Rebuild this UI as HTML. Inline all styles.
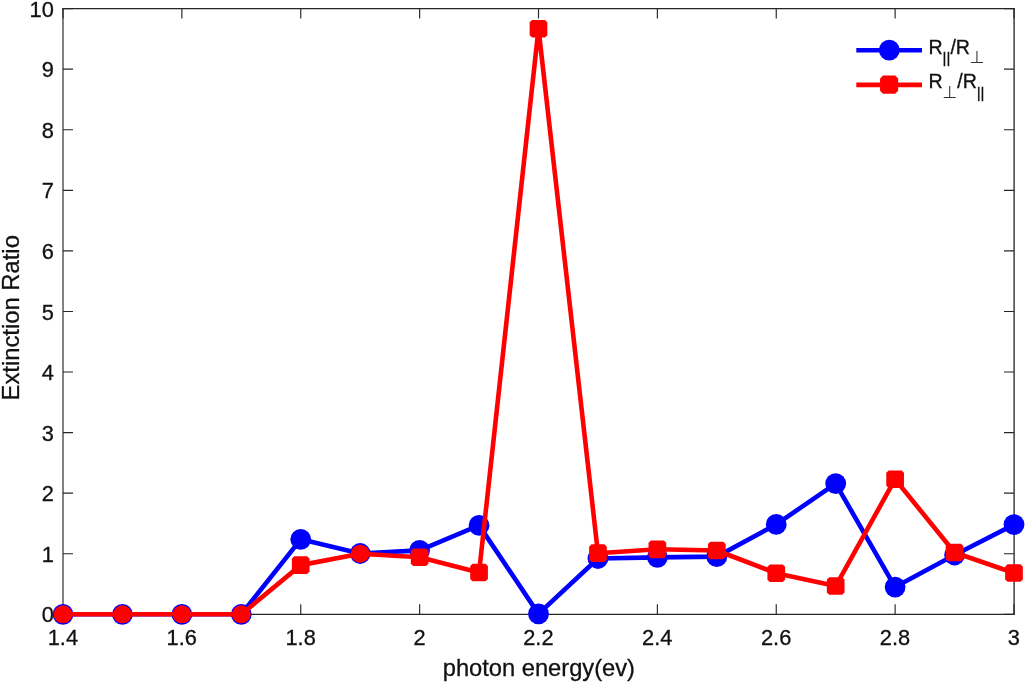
<!DOCTYPE html><html><head><meta charset="utf-8"><title>Extinction Ratio</title><style>html,body{margin:0;padding:0;background:#fff;overflow:hidden}svg{display:block}text{font-family:'Liberation Sans', Arial, Helvetica, sans-serif;fill:#111;stroke:#111;stroke-width:0.3px}</style></head><body>
<svg width="1025" height="682" viewBox="0 0 1025 682">
<rect width="1025" height="682" fill="#fff"/>
<path d="M63.00 614.30V604.30M63.00 8.60V18.60M181.87 614.30V604.30M181.87 8.60V18.60M300.75 614.30V604.30M300.75 8.60V18.60M419.63 614.30V604.30M419.63 8.60V18.60M538.50 614.30V604.30M538.50 8.60V18.60M657.38 614.30V604.30M657.38 8.60V18.60M776.25 614.30V604.30M776.25 8.60V18.60M895.12 614.30V604.30M895.12 8.60V18.60M1014.00 614.30V604.30M1014.00 8.60V18.60M63.00 614.30H73.00M1014.00 614.30H1004.00M63.00 553.73H73.00M1014.00 553.73H1004.00M63.00 493.16H73.00M1014.00 493.16H1004.00M63.00 432.59H73.00M1014.00 432.59H1004.00M63.00 372.02H73.00M1014.00 372.02H1004.00M63.00 311.45H73.00M1014.00 311.45H1004.00M63.00 250.88H73.00M1014.00 250.88H1004.00M63.00 190.31H73.00M1014.00 190.31H1004.00M63.00 129.74H73.00M1014.00 129.74H1004.00M63.00 69.17H73.00M1014.00 69.17H1004.00M63.00 8.60H73.00M1014.00 8.60H1004.00" stroke="#262626" stroke-width="1.15" fill="none"/>
<path d="M62.40 8.60H1014.60" stroke="#262626" stroke-width="1.2" fill="none"/>
<path d="M62.40 614.30H1014.60" stroke="#262626" stroke-width="1.2" fill="none"/>
<path d="M63.00 8.00V614.90" stroke="#262626" stroke-width="1.17" fill="none"/>
<path d="M1014.10 8.00V614.90" stroke="#262626" stroke-width="1.33" fill="none"/>
<text x="62.90" y="644.6" font-size="21.8" text-anchor="middle">1.4</text>
<text x="181.77" y="644.6" font-size="21.8" text-anchor="middle">1.6</text>
<text x="300.65" y="644.6" font-size="21.8" text-anchor="middle">1.8</text>
<text x="419.53" y="644.6" font-size="21.8" text-anchor="middle">2</text>
<text x="538.40" y="644.6" font-size="21.8" text-anchor="middle">2.2</text>
<text x="657.27" y="644.6" font-size="21.8" text-anchor="middle">2.4</text>
<text x="776.15" y="644.6" font-size="21.8" text-anchor="middle">2.6</text>
<text x="895.02" y="644.6" font-size="21.8" text-anchor="middle">2.8</text>
<text x="1013.90" y="644.6" font-size="21.8" text-anchor="middle">3</text>
<text x="53.8" y="622.40" font-size="21.8" text-anchor="end">0</text>
<text x="53.8" y="561.83" font-size="21.8" text-anchor="end">1</text>
<text x="53.8" y="501.26" font-size="21.8" text-anchor="end">2</text>
<text x="53.8" y="440.69" font-size="21.8" text-anchor="end">3</text>
<text x="53.8" y="380.12" font-size="21.8" text-anchor="end">4</text>
<text x="53.8" y="319.55" font-size="21.8" text-anchor="end">5</text>
<text x="53.8" y="258.98" font-size="21.8" text-anchor="end">6</text>
<text x="53.8" y="198.41" font-size="21.8" text-anchor="end">7</text>
<text x="53.8" y="137.84" font-size="21.8" text-anchor="end">8</text>
<text x="53.8" y="77.27" font-size="21.8" text-anchor="end">9</text>
<text x="53.8" y="16.70" font-size="21.8" text-anchor="end">10</text>
<text x="538.85" y="675.6" font-size="23.7" text-anchor="middle">photon energy(ev)</text>
<text transform="translate(18.7 317.8) rotate(-90)" x="0" y="0" font-size="23.8" text-anchor="middle">Extinction Ratio</text>
<polyline points="63.00,614.30 122.44,614.30 181.87,614.30 241.31,614.30 300.75,539.31 360.19,553.49 419.63,550.34 479.06,525.38 538.50,613.88 597.94,558.52 657.38,557.36 716.81,556.64 776.25,524.41 835.69,483.59 895.12,587.10 954.56,555.00 1014.00,524.60" fill="none" stroke="#0000ff" stroke-width="4.6" stroke-linejoin="round"/>
<circle cx="63.00" cy="614.30" r="10.4" fill="#0000ff"/>
<circle cx="122.44" cy="614.30" r="10.4" fill="#0000ff"/>
<circle cx="181.87" cy="614.30" r="10.4" fill="#0000ff"/>
<circle cx="241.31" cy="614.30" r="10.4" fill="#0000ff"/>
<circle cx="300.75" cy="539.31" r="10.4" fill="#0000ff"/>
<circle cx="360.19" cy="553.49" r="10.4" fill="#0000ff"/>
<circle cx="419.63" cy="550.34" r="10.4" fill="#0000ff"/>
<circle cx="479.06" cy="525.38" r="10.4" fill="#0000ff"/>
<circle cx="538.50" cy="613.88" r="10.4" fill="#0000ff"/>
<circle cx="597.94" cy="558.52" r="10.4" fill="#0000ff"/>
<circle cx="657.38" cy="557.36" r="10.4" fill="#0000ff"/>
<circle cx="716.81" cy="556.64" r="10.4" fill="#0000ff"/>
<circle cx="776.25" cy="524.41" r="10.4" fill="#0000ff"/>
<circle cx="835.69" cy="483.59" r="10.4" fill="#0000ff"/>
<circle cx="895.12" cy="587.10" r="10.4" fill="#0000ff"/>
<circle cx="954.56" cy="555.00" r="10.4" fill="#0000ff"/>
<circle cx="1014.00" cy="524.60" r="10.4" fill="#0000ff"/>
<polyline points="63.00,614.30 122.44,614.30 181.87,614.30 241.31,614.30 300.75,565.12 360.19,553.73 419.63,557.24 479.06,572.51 538.50,28.77 597.94,553.18 657.38,549.31 716.81,550.52 776.25,573.23 835.69,586.01 895.12,479.23 954.56,552.52 1014.00,572.99" fill="none" stroke="#ff0000" stroke-width="4.6" stroke-linejoin="round"/>
<ellipse cx="63.00" cy="614.30" rx="9.4" ry="9.0" fill="#ff0000"/>
<ellipse cx="122.44" cy="614.30" rx="9.4" ry="9.0" fill="#ff0000"/>
<ellipse cx="181.87" cy="614.30" rx="9.4" ry="9.0" fill="#ff0000"/>
<ellipse cx="241.31" cy="614.30" rx="9.4" ry="9.0" fill="#ff0000"/>
<path d="M294.30 556.27L307.20 556.27L309.60 558.67L309.60 571.57L307.20 573.97L294.30 573.97L291.90 571.57L291.90 558.67Z" fill="#ff0000"/>
<ellipse cx="360.19" cy="553.73" rx="9.4" ry="9.0" fill="#ff0000"/>
<path d="M413.18 548.39L426.08 548.39L428.48 550.79L428.48 563.69L426.08 566.09L413.18 566.09L410.78 563.69L410.78 550.79Z" fill="#ff0000"/>
<path d="M472.61 563.66L485.51 563.66L487.91 566.06L487.91 578.96L485.51 581.36L472.61 581.36L470.21 578.96L470.21 566.06Z" fill="#ff0000"/>
<path d="M532.05 19.92L544.95 19.92L547.35 22.32L547.35 35.22L544.95 37.62L532.05 37.62L529.65 35.22L529.65 22.32Z" fill="#ff0000"/>
<path d="M591.49 544.33L604.39 544.33L606.79 546.73L606.79 559.63L604.39 562.03L591.49 562.03L589.09 559.63L589.09 546.73Z" fill="#ff0000"/>
<path d="M650.92 540.46L663.83 540.46L666.23 542.86L666.23 555.76L663.83 558.16L650.92 558.16L648.52 555.76L648.52 542.86Z" fill="#ff0000"/>
<path d="M710.36 541.67L723.26 541.67L725.66 544.07L725.66 556.97L723.26 559.37L710.36 559.37L707.96 556.97L707.96 544.07Z" fill="#ff0000"/>
<path d="M769.80 564.38L782.70 564.38L785.10 566.78L785.10 579.68L782.70 582.08L769.80 582.08L767.40 579.68L767.40 566.78Z" fill="#ff0000"/>
<path d="M829.24 577.16L842.14 577.16L844.54 579.56L844.54 592.46L842.14 594.86L829.24 594.86L826.84 592.46L826.84 579.56Z" fill="#ff0000"/>
<path d="M888.67 470.38L901.57 470.38L903.97 472.78L903.97 485.68L901.57 488.08L888.67 488.08L886.27 485.68L886.27 472.78Z" fill="#ff0000"/>
<path d="M948.11 543.67L961.01 543.67L963.41 546.07L963.41 558.97L961.01 561.37L948.11 561.37L945.71 558.97L945.71 546.07Z" fill="#ff0000"/>
<path d="M1007.55 564.14L1020.45 564.14L1022.85 566.54L1022.85 579.44L1020.45 581.84L1007.55 581.84L1005.15 579.44L1005.15 566.54Z" fill="#ff0000"/>
<path d="M856.3 50.2H922" stroke="#0000ff" stroke-width="4.6"/>
<circle cx="889.3" cy="50.2" r="10.4" fill="#0000ff"/>
<path d="M856.3 84.85H922" stroke="#ff0000" stroke-width="4.6"/>
<path d="M883.05 75.55L895.15 75.55L898.15 78.55L898.15 90.65L895.15 93.65L883.05 93.65L880.05 90.65L880.05 78.55Z" fill="#ff0000"/>
<text x="928.40" y="53.60" font-size="19.6">R</text>
<text x="942.50" y="63.00" font-size="15.0">||</text>
<text x="950.50" y="53.60" font-size="19.6">/</text>
<text x="955.85" y="53.60" font-size="19.6">R</text>
<text x="969.75" y="63.10" font-size="17.0" style="font-family:'DejaVu Sans',sans-serif;stroke-width:0;fill:#333">⊥</text>
<text x="928.40" y="87.90" font-size="19.6">R</text>
<text x="942.55" y="97.90" font-size="17.0" style="font-family:'DejaVu Sans',sans-serif;stroke-width:0;fill:#333">⊥</text>
<text x="957.30" y="87.90" font-size="19.6">/</text>
<text x="962.80" y="87.90" font-size="19.6">R</text>
<text x="976.65" y="97.50" font-size="15.0">||</text>
</svg></body></html>
